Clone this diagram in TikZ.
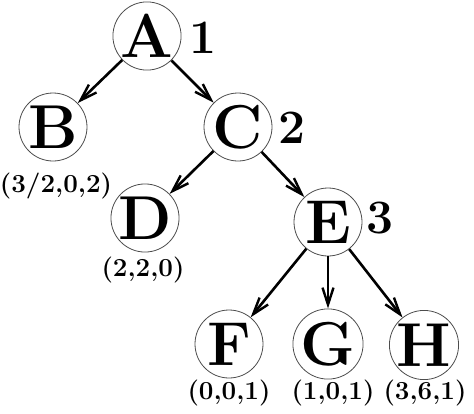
\documentclass[tikz,border=0pt]{standalone}
\usetikzlibrary{arrows.meta}
\begin{document}
\begin{tikzpicture}[x=1pt,y=-1pt,
  vtx/.style={circle,draw=black!70,line width=0.8pt,minimum size=68pt,inner sep=0pt,font=\fontsize{62}{64}\selectfont\bfseries},
  num/.style={font=\fontsize{48}{50}\selectfont\bfseries},
  lab/.style={font=\fontsize{26}{28}\selectfont\bfseries},
  edge/.style={line width=2.6pt,-{Straight Barb[length=17pt,width=11pt,line width=2.4pt]}}]
\useasboundingbox (0,0) rectangle (474,413);
\node[vtx] (A) at (147,36) {A};
\node[vtx] (B) at (53,127) {B};
\node[vtx] (C) at (238,127) {C};
\node[vtx] (D) at (145,218) {D};
\node[vtx] (E) at (328,222) {E};
\node[vtx] (F) at (229,344) {F};
\node[vtx] (G) at (328,344) {G};
\node[vtx] (H) at (424,345) {H};
\node[num] (n1) at (203,38) {1};
\node[num] (n2) at (292,128) {2};
\node[num] (n3) at (380,218) {3};
\node[lab] (lB) at (56,186) {(3/2,0,2)};
\node[lab] (lD) at (143,270) {(2,2,0)};
\node[lab] (lF) at (229,393) {(0,0,1)};
\node[lab] (lG) at (333,393) {(1,0,1)};
\node[lab] (lH) at (425,393) {(3,6,1)};
\draw[edge] (A) -- (B);
\draw[edge] (A) -- (C);
\draw[edge] (C) -- (D);
\draw[edge] (C) -- (E);
\draw[edge] (E) -- (F);
\draw[edge] (E) -- (G);
\draw[edge] (E) -- (H);
\end{tikzpicture}
\end{document}
